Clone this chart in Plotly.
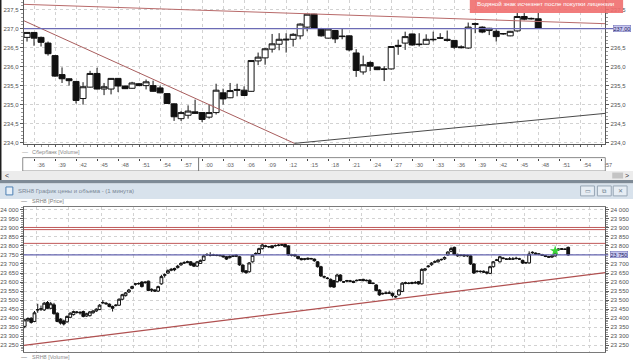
import plotly.graph_objects as go

W, H = 640, 360
def PX(x): return x / W
def PY(y): return 1 - y / H

# ---------------- top chart (Сбербанк, 1 min) ----------------
TOP_OPEN = [236.77, 236.90, 236.77, 236.62, 236.29, 235.79, 235.68, 235.61, 235.16, 235.46,
            235.82, 235.41, 235.41, 235.69, 235.49, 235.43, 235.55, 235.50, 235.50, 235.44,
            235.29, 235.02, 234.63, 234.72, 234.81, 234.79, 234.67, 234.79, 235.31, 235.18,
            235.40, 235.38, 235.35, 236.15, 236.23, 236.46, 236.59, 236.70, 236.72, 236.81,
            237.04, 237.38, 236.99, 236.75, 236.95, 236.79, 236.81, 236.36, 235.86, 236.11,
            235.99, 235.94, 235.94, 236.53, 236.62, 236.86, 236.58, 236.59, 236.72, 236.76,
            236.72, 236.69, 236.52, 236.49, 237.11, 237.04, 236.95, 236.93, 236.86, 236.81,
            236.94, 237.32, 237.27, 237.26]
TOP_HIGH = [236.91, 236.91, 236.79, 236.66, 236.30, 235.98, 235.69, 235.62, 235.59, 235.89,
            235.97, 235.57, 235.70, 235.70, 235.50, 235.60, 235.57, 235.66, 235.63, 235.50,
            235.30, 235.03, 234.83, 234.98, 235.13, 234.80, 235.00, 235.55, 235.42, 235.57,
            235.55, 235.48, 236.16, 236.37, 236.49, 236.86, 236.88, 236.88, 236.88, 237.14,
            237.38, 237.39, 237.02, 237.02, 236.96, 237.01, 236.82, 236.46, 236.29, 236.14,
            236.00, 236.01, 236.54, 236.71, 236.92, 236.87, 236.88, 236.85, 236.92, 236.88,
            236.95, 236.70, 236.56, 237.16, 237.16, 237.06, 237.02, 236.98, 236.88, 236.94,
            237.41, 237.41, 237.29, 237.41]
TOP_LOW = [236.66, 236.55, 236.53, 236.29, 235.73, 235.57, 235.50, 235.03, 235.00, 235.45,
           235.40, 235.25, 235.27, 235.33, 235.41, 235.42, 235.49, 235.40, 235.34, 235.30,
           235.02, 234.57, 234.57, 234.63, 234.76, 234.54, 234.63, 234.74, 235.00, 235.17,
           235.22, 235.23, 235.34, 236.04, 236.05, 236.37, 236.43, 236.37, 236.53, 236.72,
           236.93, 237.00, 236.79, 236.74, 236.62, 236.72, 236.40, 235.73, 235.79, 235.88,
           235.91, 235.62, 235.92, 236.31, 236.44, 236.55, 236.53, 236.58, 236.66, 236.73,
           236.66, 236.47, 236.48, 236.47, 236.88, 236.88, 236.83, 236.66, 236.84, 236.80,
           236.92, 237.22, 237.24, 236.99]
TOP_CLOSE = [236.90, 236.75, 236.64, 236.34, 235.75, 235.68, 235.63, 235.11, 235.47, 235.82,
             235.41, 235.47, 235.69, 235.49, 235.42, 235.57, 235.50, 235.60, 235.35, 235.31,
             235.03, 234.68, 234.79, 234.83, 234.77, 234.61, 234.79, 235.38, 235.15, 235.37,
             235.38, 235.24, 236.16, 236.25, 236.47, 236.60, 236.72, 236.72, 236.85, 237.12,
             237.38, 237.01, 236.81, 236.99, 236.73, 236.80, 236.44, 235.90, 236.05, 236.01,
             235.92, 235.93, 236.53, 236.56, 236.79, 236.57, 236.59, 236.72, 236.71, 236.75,
             236.69, 236.51, 236.50, 237.04, 237.13, 236.91, 237.01, 236.79, 236.87, 236.93,
             237.32, 237.25, 237.26, 237.01]
TOP_XRANGE = [-0.47, 82.58]
TOP_YRANGE = [233.958, 237.754]
TOP_YTICKS = [234.0, 234.5, 235.0, 235.5, 236.0, 236.5, 237.0, 237.5]
TOP_YTICKS_RIGHT = [234.0, 234.5, 235.0, 235.5, 236.0, 236.5, 237.5]
TIME_LABELS = [":36", ":39", ":42", ":45", ":48", ":51", ":54", ":57",
               ":00", ":03", ":06", ":09", ":12", ":15", ":18", ":21", ":24", ":27",
               ":30", ":33", ":36", ":39", ":42", ":45", ":48", ":51", ":54", ":57"]
TIME_TICK_POS = [1 + 3 * i for i in range(len(TIME_LABELS))]
HOUR_BREAK = 24.5
TOP_LEVEL = 237.0
TOP_LEVEL_LABEL = "237,00"
TOP_RES_X, TOP_RES_Y = [-0.47, 82.58], [237.64, 237.13]
TOP_FALL_X, TOP_FALL_Y = [-0.47, 38.2], [237.21, 233.98]
TOP_RISE_X, TOP_RISE_Y = [38.2, 82.58], [233.98, 234.77]

# ---------------- bottom chart (SRH8, 1 min) ----------------
BOT_OPEN = [23355, 23390, 23400, 23382, 23445, 23450, 23446, 23487, 23455, 23474,
            23428, 23395, 23385, 23380, 23405, 23420, 23432, 23432, 23437, 23412,
            23414, 23430, 23440, 23448, 23485, 23483, 23478, 23465, 23470, 23472,
            23505, 23525, 23545, 23565, 23588, 23590, 23600, 23600, 23605, 23560,
            23556, 23550, 23590, 23638, 23650, 23665, 23675, 23680, 23695, 23705,
            23712, 23712, 23703, 23688, 23703, 23720, 23750, 23749, 23750, 23749,
            23748, 23745, 23740, 23735, 23742, 23742, 23740, 23694, 23662, 23657,
            23712, 23755, 23758, 23785, 23800, 23795, 23800, 23800, 23802, 23806,
            23808, 23800, 23752, 23752, 23742, 23730, 23726, 23726, 23730, 23727,
            23712, 23685, 23630, 23622, 23615, 23608, 23602, 23639, 23602, 23608,
            23606, 23604, 23610, 23610, 23615, 23610, 23610, 23594, 23584, 23556,
            23535, 23540, 23538, 23538, 23518, 23529, 23548, 23593, 23594, 23592,
            23597, 23602, 23590, 23666, 23685, 23696, 23710, 23712, 23725, 23728,
            23750, 23770, 23792, 23753, 23750, 23750, 23748, 23745, 23700, 23658,
            23660, 23660, 23655, 23648, 23685, 23720, 23712, 23730, 23728, 23727,
            23728, 23732, 23728, 23720, 23708, 23706, 23762, 23760, 23755, 23752,
            23746, 23740, 23738, 23745, 23778, 23784, 23782, 23792]
BOT_HIGH = [23395, 23405, 23405, 23440, 23480, 23470, 23490, 23495, 23490, 23485,
            23432, 23400, 23392, 23415, 23432, 23442, 23440, 23440, 23442, 23430,
            23440, 23445, 23455, 23478, 23500, 23490, 23482, 23470, 23478, 23510,
            23535, 23545, 23562, 23580, 23595, 23598, 23605, 23605, 23608, 23565,
            23560, 23580, 23640, 23648, 23670, 23678, 23680, 23695, 23710, 23715,
            23718, 23716, 23708, 23716, 23724, 23752, 23760, 23765, 23756, 23753,
            23752, 23750, 23744, 23748, 23750, 23754, 23745, 23698, 23666, 23710,
            23752, 23765, 23790, 23815, 23806, 23800, 23804, 23808, 23810, 23812,
            23815, 23804, 23756, 23756, 23746, 23734, 23732, 23736, 23734, 23730,
            23716, 23690, 23636, 23628, 23620, 23612, 23645, 23643, 23606, 23612,
            23612, 23608, 23614, 23616, 23618, 23614, 23614, 23598, 23588, 23560,
            23542, 23548, 23552, 23542, 23526, 23560, 23600, 23602, 23600, 23602,
            23606, 23606, 23676, 23678, 23694, 23710, 23720, 23728, 23730, 23742,
            23770, 23795, 23796, 23757, 23754, 23754, 23752, 23749, 23704, 23664,
            23664, 23664, 23660, 23690, 23716, 23728, 23745, 23738, 23732, 23738,
            23738, 23740, 23734, 23724, 23712, 23770, 23770, 23764, 23760, 23756,
            23750, 23745, 23748, 23775, 23786, 23788, 23786, 23796]
BOT_LOW = [23345, 23380, 23370, 23378, 23430, 23440, 23440, 23450, 23450, 23420,
           23378, 23365, 23360, 23375, 23400, 23415, 23425, 23420, 23405, 23408,
           23410, 23425, 23435, 23445, 23478, 23475, 23460, 23437, 23465, 23468,
           23500, 23520, 23540, 23560, 23580, 23585, 23570, 23590, 23550, 23545,
           23545, 23545, 23585, 23625, 23645, 23660, 23660, 23675, 23690, 23700,
           23705, 23690, 23683, 23684, 23700, 23716, 23745, 23742, 23745, 23743,
           23742, 23735, 23722, 23730, 23738, 23738, 23690, 23652, 23645, 23652,
           23708, 23748, 23754, 23780, 23792, 23788, 23786, 23796, 23798, 23800,
           23792, 23746, 23742, 23740, 23725, 23720, 23720, 23722, 23724, 23712,
           23680, 23628, 23620, 23615, 23570, 23568, 23598, 23603, 23595, 23598,
           23600, 23594, 23604, 23606, 23604, 23604, 23590, 23588, 23548, 23524,
           23530, 23533, 23534, 23515, 23512, 23525, 23544, 23588, 23588, 23588,
           23590, 23586, 23586, 23660, 23680, 23690, 23706, 23708, 23718, 23722,
           23745, 23765, 23748, 23740, 23742, 23740, 23738, 23695, 23645, 23652,
           23652, 23650, 23642, 23644, 23680, 23716, 23708, 23726, 23722, 23722,
           23722, 23725, 23722, 23700, 23702, 23702, 23756, 23750, 23748, 23744,
           23738, 23734, 23734, 23740, 23772, 23778, 23778, 23746]
BOT_CLOSE = [23391, 23398, 23377, 23430, 23448, 23452, 23483, 23455, 23480, 23425,
             23382, 23373, 23368, 23410, 23428, 23437, 23434, 23430, 23410, 23425,
             23435, 23440, 23450, 23472, 23487, 23480, 23465, 23455, 23472, 23505,
             23530, 23540, 23556, 23575, 23590, 23592, 23575, 23598, 23553, 23556,
             23550, 23575, 23630, 23640, 23663, 23670, 23668, 23688, 23703, 23707,
             23710, 23694, 23688, 23712, 23720, 23745, 23752, 23748, 23749, 23747,
             23746, 23740, 23727, 23742, 23745, 23748, 23695, 23657, 23652, 23706,
             23748, 23758, 23785, 23805, 23798, 23796, 23790, 23802, 23804, 23805,
             23795, 23750, 23749, 23745, 23730, 23724, 23728, 23731, 23729, 23718,
             23685, 23634, 23628, 23620, 23575, 23572, 23639, 23608, 23600, 23606,
             23605, 23598, 23608, 23612, 23608, 23608, 23592, 23592, 23553, 23529,
             23537, 23538, 23540, 23525, 23520, 23556, 23594, 23596, 23592, 23597,
             23596, 23590, 23670, 23672, 23688, 23705, 23712, 23721, 23724, 23736,
             23766, 23785, 23753, 23745, 23748, 23745, 23746, 23700, 23650, 23660,
             23658, 23655, 23650, 23685, 23712, 23722, 23740, 23732, 23726, 23728,
             23727, 23730, 23727, 23705, 23706, 23755, 23764, 23755, 23754, 23748,
             23742, 23738, 23744, 23765, 23782, 23782, 23781, 23750]
BOT_XRANGE = [-0.3, 178.4]
BOT_YRANGE = [23213, 24016]
BOT_YTICKS = list(range(23250, 24001, 50))
BOT_RED_LEVELS = [23902, 23890, 23814]
BOT_BLUE_LEVEL = 23750
BOT_LEVEL_LABEL = "23 750"
BOT_TREND_X, BOT_TREND_Y = [-0.3, 178.4], [23250, 23652]
SIGNAL_X, SIGNAL_Y = [163], [23772]

FONT = "Liberation Sans"
AXC = "#5a5a5a"
GRID = "#d2d2d2"

fig = go.Figure()

def candle_style(lw):
    return dict(increasing=dict(fillcolor="white", line=dict(color="#111", width=lw)),
                decreasing=dict(fillcolor="#111", line=dict(color="#111", width=lw)),
                whiskerwidth=0, hoverinfo="skip", showlegend=False)

fig.add_trace(go.Candlestick(x=list(range(len(TOP_OPEN))), open=TOP_OPEN, high=TOP_HIGH,
                             low=TOP_LOW, close=TOP_CLOSE, xaxis="x", yaxis="y", **candle_style(1)))
fig.add_trace(go.Scatter(x=TOP_RES_X, y=TOP_RES_Y, xaxis="x", yaxis="y5", mode="lines",
                         line=dict(color="#b86a6a", width=1), hoverinfo="skip", showlegend=False))
fig.add_trace(go.Scatter(x=TOP_FALL_X, y=TOP_FALL_Y, xaxis="x", yaxis="y5", mode="lines",
                         line=dict(color="#a85d5d", width=1), hoverinfo="skip", showlegend=False))
fig.add_trace(go.Scatter(x=TOP_RISE_X, y=TOP_RISE_Y, xaxis="x", yaxis="y5", mode="lines",
                         line=dict(color="#4a4a4a", width=1), hoverinfo="skip", showlegend=False))

fig.add_trace(go.Candlestick(x=list(range(len(BOT_OPEN))), open=BOT_OPEN, high=BOT_HIGH,
                             low=BOT_LOW, close=BOT_CLOSE, xaxis="x2", yaxis="y2", **candle_style(1)))
fig.add_trace(go.Scatter(x=BOT_TREND_X, y=BOT_TREND_Y, xaxis="x2", yaxis="y6", mode="lines",
                         line=dict(color="#b05050", width=1.2), hoverinfo="skip", showlegend=False))
fig.add_trace(go.Scatter(x=SIGNAL_X, y=SIGNAL_Y, xaxis="x2", yaxis="y6", mode="markers",
                         marker=dict(symbol="star", size=8, color="#39d439"),
                         hoverinfo="skip", showlegend=False))
# time axis of the (collapsed) volume pane
fig.add_trace(go.Scatter(x=[TIME_TICK_POS[0]], y=[0.5], xaxis="x3", yaxis="y3", mode="markers",
                         marker=dict(opacity=0), hoverinfo="skip", showlegend=False))

tickfont = dict(family=FONT, size=6, color="#505050")
common_y = dict(showline=True, linecolor=AXC, linewidth=1, ticks="outside", ticklen=3,
                tickcolor=AXC, tickfont=tickfont, zeroline=False, fixedrange=True)

shapes = []
def rect(x0, y0, x1, y1, fill, line=None, lw=0, layer="below"):
    shapes.append(dict(type="rect", xref="paper", yref="paper", x0=PX(x0), x1=PX(x1),
                       y0=PY(y1), y1=PY(y0), fillcolor=fill,
                       line=dict(color=line or fill, width=lw), layer=layer))

# chrome around panes
rect(0, 0, 1.5, 181, "#1e1e1e", layer="above")
rect(23, 158.5, 612, 172, "white", "#8c8c8c", 1)
rect(0, 172, 640, 181, "#ececec")
rect(619, 173.5, 630, 179.5, "#c4c4c4")
rect(0, 181, 640, 184.5, "#7e8a96")
rect(0, 184.5, 640, 200, "#d8e2ec")
rect(6, 188, 13, 196, "#e8f0f8", "#4d7fb3", 1)
for bx in (587, 604, 620):
    rect(bx, 187, bx + 14, 197, "#e6edf4", "#97a6b5", 1)
# watermark box
rect(475, -4, 630, 13, "rgba(240,110,110,0.9)", layer="above")

# horizontal levels
shapes.append(dict(type="line", xref="paper", yref="y", x0=PX(24), x1=PX(621), y0=TOP_LEVEL,
                   y1=TOP_LEVEL, line=dict(color="#6b6bb5", width=1.2)))
for lv in BOT_RED_LEVELS:
    shapes.append(dict(type="line", xref="x2 domain", yref="y2", x0=0, x1=1, y0=lv, y1=lv,
                       line=dict(color="#c05858", width=1)))
shapes.append(dict(type="line", xref="paper", yref="y2", x0=PX(24), x1=PX(615), y0=BOT_BLUE_LEVEL,
                   y1=BOT_BLUE_LEVEL, line=dict(color="#6464b0", width=1.2)))
shapes.append(dict(type="line", xref="x3", yref="paper", x0=HOUR_BREAK, x1=HOUR_BREAK,
                   y0=PY(172), y1=PY(158.5), line=dict(color="#777", width=1)))

ann = []
def text(x, y, s, size=6, color="#606060", anchor="left", yref="paper", **kw):
    ann.append(dict(xref="paper", yref=yref, x=PX(x), y=(PY(y) if yref == "paper" else y), text=s,
                    showarrow=False, xanchor=anchor, yanchor="middle",
                    font=dict(family=FONT, size=size, color=color), **kw))

text(20, 152.5, "—", 6, "#909090")
text(30, 152.5, "Сбербанк [Volume]", 5.5, "#8a8a8a")
text(7, 176, "<", 7, "#333", "center")
text(634, 176, ">", 7, "#333", "center")
text(16, 192, "SRH8 График цены и объема - (1 минута)", 6, "#7a8796")
for bx, g in zip((587, 604, 620), ("▭", "⧉", "✕")):
    text(bx + 7, 192, g, 6, "#6a7a8a", "center")
text(19, 202.5, "—", 6, "#606060")
text(30, 202.5, "SRH8 [Price]", 5.5, "#7a7a7a")
text(19, 358.5, "—", 6, "#606060")
text(30, 358.5, "SRH8 [Volume]", 5.5, "#8a8a8a")
text(629, TOP_LEVEL, TOP_LEVEL_LABEL, 5.5, "#202060", "center", yref="y", bgcolor="#c6c6ee",
     bordercolor="#6b6bb5", borderwidth=0.5, borderpad=0)
text(626, BOT_BLUE_LEVEL, BOT_LEVEL_LABEL, 5.5, "#202060", "center", yref="y2", bgcolor="#c6c6ee",
     bordercolor="#6464b0", borderwidth=0.5, borderpad=0)
text(552, 3.5, "Водяной знак исчезнет после покупки лицензии", 6.2, "white", "center")

fig.update_layout(
    width=W, height=H, autosize=False, margin=dict(l=0, r=0, t=0, b=0),
    paper_bgcolor="white", plot_bgcolor="white", separators=", ",
    boxgap=0.0, boxgroupgap=0.15,
    font=dict(family=FONT, size=6, color="#505050"), showlegend=False,
    xaxis=dict(domain=[PX(24), PX(612)], anchor="y", range=TOP_XRANGE, tickvals=TIME_TICK_POS,
               showticklabels=False, showgrid=True, gridcolor=GRID, griddash="dot",
               showline=True, linecolor=AXC, ticks="outside", ticklen=2, tickcolor=AXC,
               minor=dict(dtick=1, ticks="outside", ticklen=1.5, tickcolor="#999"),
               zeroline=False, rangeslider=dict(visible=False), fixedrange=True),
    yaxis=dict(domain=[PY(145), 1], anchor="x", range=TOP_YRANGE, tickvals=TOP_YTICKS,
               tickformat=".1f", showgrid=True, gridcolor=GRID, griddash="dot",
               minor=dict(dtick=0.1, ticks="outside", ticklen=1.5, tickcolor="#999"), **common_y),
    yaxis5=dict(overlaying="y", side="right", anchor="x", range=TOP_YRANGE,
                tickvals=TOP_YTICKS_RIGHT, tickformat=".1f", showgrid=False,
                minor=dict(dtick=0.1, ticks="outside", ticklen=1.5, tickcolor="#999"), **common_y),
    xaxis3=dict(domain=[PX(24), PX(612)], anchor="y3", range=TOP_XRANGE, tickvals=TIME_TICK_POS,
                ticktext=TIME_LABELS, ticks="outside", ticklen=2, tickcolor="#444",
                tickfont=dict(family=FONT, size=5.5, color="#606060"), ticklabelshift=7,
                ticklabelstandoff=-1, showline=False, showgrid=False, zeroline=False, fixedrange=True),
    yaxis3=dict(domain=[PY(159), PY(150)], anchor="x3", range=[0, 1], visible=False, fixedrange=True),
    xaxis2=dict(domain=[PX(24), PX(612)], anchor="y2", range=BOT_XRANGE, tick0=3.5, dtick=10,
                showticklabels=False, showgrid=True, gridcolor=GRID, griddash="dot",
                showline=True, mirror=True, linecolor="#7a7a7a", ticks="", zeroline=False,
                rangeslider=dict(visible=False), fixedrange=True),
    yaxis2=dict(domain=[PY(354), PY(208)], anchor="x2", range=BOT_YRANGE, tickvals=BOT_YTICKS,
                tickformat=",d", showgrid=True, gridcolor=GRID, griddash="dot",
                minor=dict(dtick=10, ticks="outside", ticklen=1.5, tickcolor="#999"), **common_y),
    yaxis6=dict(overlaying="y2", side="right", anchor="x2", range=BOT_YRANGE,
                tickvals=[v for v in BOT_YTICKS if v != BOT_BLUE_LEVEL],
                tickformat=",d", showgrid=False,
                minor=dict(dtick=10, ticks="outside", ticklen=1.5, tickcolor="#999"), **common_y),
    shapes=shapes, annotations=ann,
)

fig.write_html("out.html")
